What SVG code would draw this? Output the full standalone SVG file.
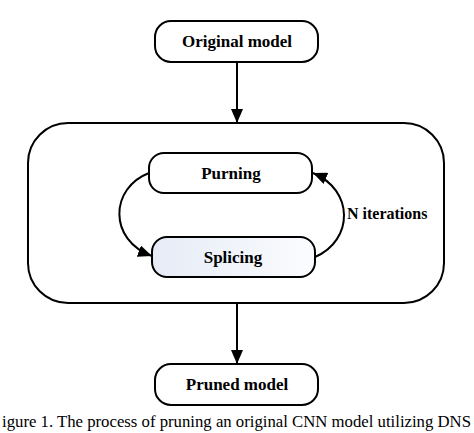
<svg xmlns="http://www.w3.org/2000/svg" width="474" height="433" viewBox="0 0 474 433">
<style>
.box{fill:#fff;stroke:#000;stroke-width:2}
.lbl{font-family:"Liberation Serif",serif;font-weight:bold;font-size:17px;text-anchor:middle;fill:#000}
.edge{fill:none;stroke:#000;stroke-width:2}
</style>
<defs>
<marker id="ah" viewBox="0 0 14 12" refX="14" refY="6" markerWidth="14" markerHeight="12" markerUnits="userSpaceOnUse" orient="auto">
<path d="M0,0 L14,6 L0,12 Z" fill="#000"/>
</marker>
<linearGradient id="sg" x1="0" y1="0" x2="1" y2="0">
<stop offset="0" stop-color="#e6ebf6"/>
<stop offset="1" stop-color="#fbfcfe"/>
</linearGradient>
</defs>
<rect width="474" height="433" fill="#fff"/>
<g id="loop">
<rect x="28" y="123" width="416" height="180" rx="40" class="box"/>
</g>
<g id="original">
<rect x="155" y="21" width="163" height="41" rx="16" class="box"/>
<text x="237" y="47" class="lbl">Original model</text>
</g>
<g id="purning">
<rect x="149" y="153" width="163" height="40" rx="15" class="box"/>
<text x="231" y="179" class="lbl">Purning</text>
</g>
<g id="splicing">
<rect x="152" y="237" width="163" height="40" rx="15" class="box" style="fill:url(#sg)"/>
<text x="233" y="263" class="lbl">Splicing</text>
</g>
<g id="pruned">
<rect x="155" y="364" width="163" height="41" rx="16" class="box"/>
<text x="237" y="390" class="lbl">Pruned model</text>
</g>
<g id="connectors">
<path d="M237,62 V123" class="edge" marker-end="url(#ah)"/>
<path d="M237,303 V364" class="edge" marker-end="url(#ah)"/>
<path d="M149,173 C110,188 108,240 152,256" class="edge" marker-end="url(#ah)"/>
<path d="M315,257 C354,240 354,190 313,173" class="edge" marker-end="url(#ah)"/>
</g>
<text x="347" y="219" style="font-family:'Liberation Serif',serif;font-weight:bold;font-size:16px;fill:#000">N iterations</text>
<text x="2" y="427" textLength="469" lengthAdjust="spacingAndGlyphs" style="font-family:'Liberation Serif',serif;font-size:16.5px;fill:#000">igure 1. The process of pruning an original CNN model utilizing DNS</text>
</svg>
